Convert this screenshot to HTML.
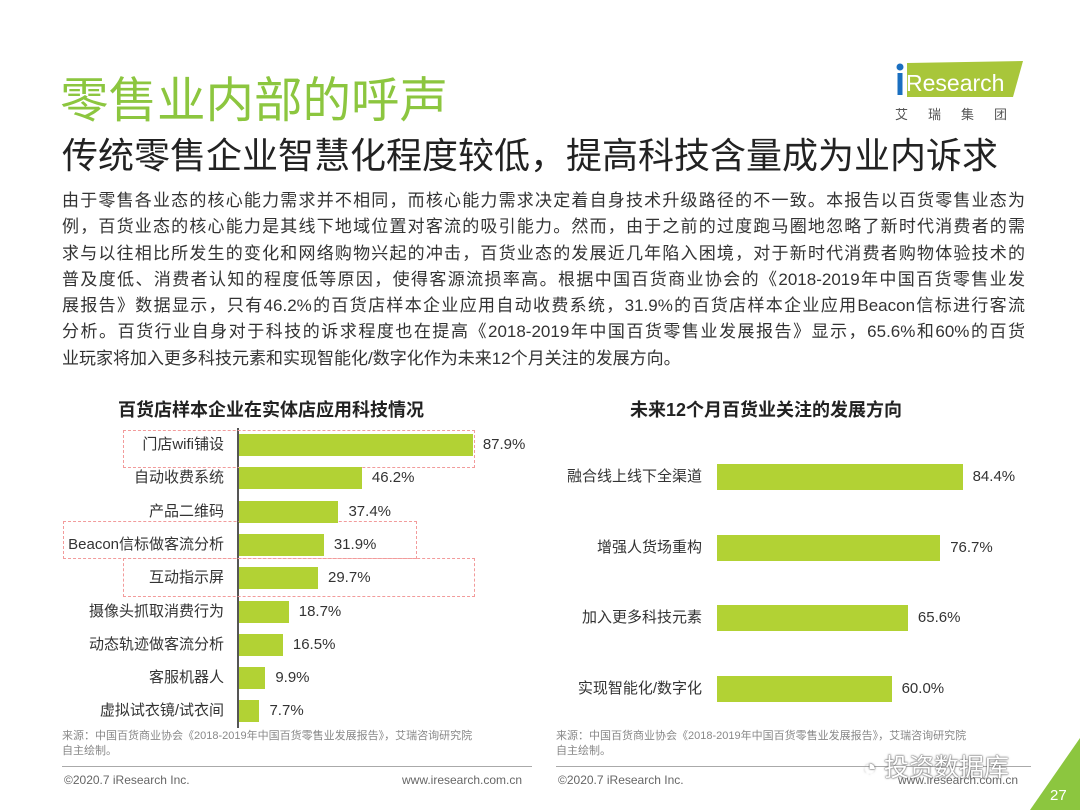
<!DOCTYPE html><html><head><meta charset="utf-8"><style>
body{margin:0;width:1080px;height:810px;background:#fff;position:relative;overflow:hidden;font-family:"Liberation Sans","Noto Sans CJK SC",sans-serif;color:#333}
.a{position:absolute;white-space:nowrap}
.lb{position:absolute;font-size:15px;color:#333;text-align:right;white-space:nowrap;line-height:22px}
.bar{position:absolute;background:#b2d234}
.v{position:absolute;font-size:15px;color:#333;line-height:22px}
.box{position:absolute;border:1.5px dashed #f29b9b}
.p div{text-align:justify;text-align-last:justify;height:26.3px;white-space:nowrap}
.p div.l{text-align-last:left}
</style></head><body>
<div class="a" style="left:60px;top:61px;font-size:48.5px;color:#8cc63f">零售业内部的呼声</div>
<div class="a" style="left:62px;top:127px;font-size:36px;color:#222">传统零售企业智慧化程度较低，提高科技含量成为业内诉求</div>
<div style="position:absolute;left:893px;top:60px;width:130px;height:40px">
<svg width="132" height="40"><polygon points="14,3 130,1 120,37 14,37" fill="#a8c63a"/><circle cx="7" cy="7" r="3.5" fill="#1a6fc0"/><rect x="4.5" y="13" width="5" height="22" fill="#1a6fc0"/><text x="13" y="31" font-size="23" fill="#fff" font-family="Liberation Sans">Research</text></svg></div>
<div class="a" style="left:895px;top:104px;font-size:13px;color:#555;letter-spacing:20px">艾瑞集团</div>
<div class="p" style="position:absolute;left:62px;top:188px;width:963px;font-size:17px;line-height:26.3px;color:#333">
<div>由于零售各业态的核心能力需求并不相同，而核心能力需求决定着自身技术升级路径的不一致。本报告以百货零售业态为</div>
<div>例，百货业态的核心能力是其线下地域位置对客流的吸引能力。然而，由于之前的过度跑马圈地忽略了新时代消费者的需</div>
<div>求与以往相比所发生的变化和网络购物兴起的冲击，百货业态的发展近几年陷入困境，对于新时代消费者购物体验技术的</div>
<div>普及度低、消费者认知的程度低等原因，使得客源流损率高。根据中国百货商业协会的《2018-2019年中国百货零售业发</div>
<div>展报告》数据显示，只有46.2%的百货店样本企业应用自动收费系统，31.9%的百货店样本企业应用Beacon信标进行客流</div>
<div>分析。百货行业自身对于科技的诉求程度也在提高《2018-2019年中国百货零售业发展报告》显示，65.6%和60%的百货</div>
<div class="l">业玩家将加入更多科技元素和实现智能化/数字化作为未来12个月关注的发展方向。</div>
</div>
<div class="a" style="left:118px;top:396px;font-size:18px;font-weight:bold;color:#222">百货店样本企业在实体店应用科技情况</div>
<div class="a" style="left:630px;top:396px;font-size:18px;font-weight:bold;color:#222">未来12个月百货业关注的发展方向</div>
<div style="position:absolute;left:237px;top:428px;width:2px;height:300px;background:#555"></div>
<div class="box" style="left:123px;top:430px;width:350px;height:36px"></div>
<div class="box" style="left:63px;top:521px;width:352px;height:36px"></div>
<div class="box" style="left:123px;top:558px;width:350px;height:37px"></div>
<div id="L"></div><div id="R"></div>
<div class="a" style="left:62px;top:729px;font-size:11px;color:#888;line-height:15px">来源：中国百货商业协会《2018-2019年中国百货零售业发展报告》，艾瑞咨询研究院<br>自主绘制。</div>
<div class="a" style="left:556px;top:729px;font-size:11px;color:#888;line-height:15px">来源：中国百货商业协会《2018-2019年中国百货零售业发展报告》，艾瑞咨询研究院<br>自主绘制。</div>
<div style="position:absolute;left:62px;top:766px;width:470px;height:1px;background:#aaa"></div>
<div style="position:absolute;left:556px;top:766px;width:475px;height:1px;background:#aaa"></div>
<div class="a" style="left:64px;top:773px;font-size:12px;color:#666">©2020.7 iResearch Inc.</div>
<div class="a" style="left:402px;top:773px;font-size:12px;color:#666">www.iresearch.com.cn</div>
<div class="a" style="left:558px;top:773px;font-size:12px;color:#666">©2020.7 iResearch Inc.</div>
<div class="a" style="left:898px;top:773px;font-size:12px;color:#666">www.iresearch.com.cn</div>
<div class="a" style="left:862px;top:748px;font-size:25px;color:#fff;text-shadow:0 0 2px #555,0 0 1px #333">◔ 投资数据库</div>
<svg style="position:absolute;left:1030px;top:738px" width="50" height="72"><polygon points="50,0 50,72 0,72" fill="#8cc63f"/><text x="20" y="62" font-size="15" fill="#fff" font-family="Liberation Sans">27</text></svg>
<script>
var L=[["门店wifi铺设",87.9],["自动收费系统",46.2],["产品二维码",37.4],["Beacon信标做客流分析",31.9],["互动指示屏",29.7],["摄像头抓取消费行为",18.7],["动态轨迹做客流分析",16.5],["客服机器人",9.9],["虚拟试衣镜/试衣间",7.7]];
var h="";L.forEach(function(d,i){var c=445+i*33.3,w=d[1]*2.66;
h+='<div class="lb" style="right:856px;top:'+(c-11)+'px">'+d[0]+'</div><div class="bar" style="left:239px;top:'+(c-11)+'px;width:'+w+'px;height:22px"></div><div class="v" style="left:'+(249+w)+'px;top:'+(c-11)+'px">'+d[1].toFixed(1)+'%</div>';});
document.getElementById("L").innerHTML=h;
var R=[["融合线上线下全渠道",84.4],["增强人货场重构",76.7],["加入更多科技元素",65.6],["实现智能化/数字化",60.0]];h="";
R.forEach(function(d,i){var c=477+i*70.7,w=d[1]*2.91;
h+='<div class="lb" style="right:378px;top:'+(c-11)+'px">'+d[0]+'</div><div class="bar" style="left:717px;top:'+(c-13)+'px;width:'+w+'px;height:26px"></div><div class="v" style="left:'+(727+w)+'px;top:'+(c-11)+'px">'+d[1].toFixed(1)+'%</div>';});
document.getElementById("R").innerHTML=h;
</script>
</body></html>
